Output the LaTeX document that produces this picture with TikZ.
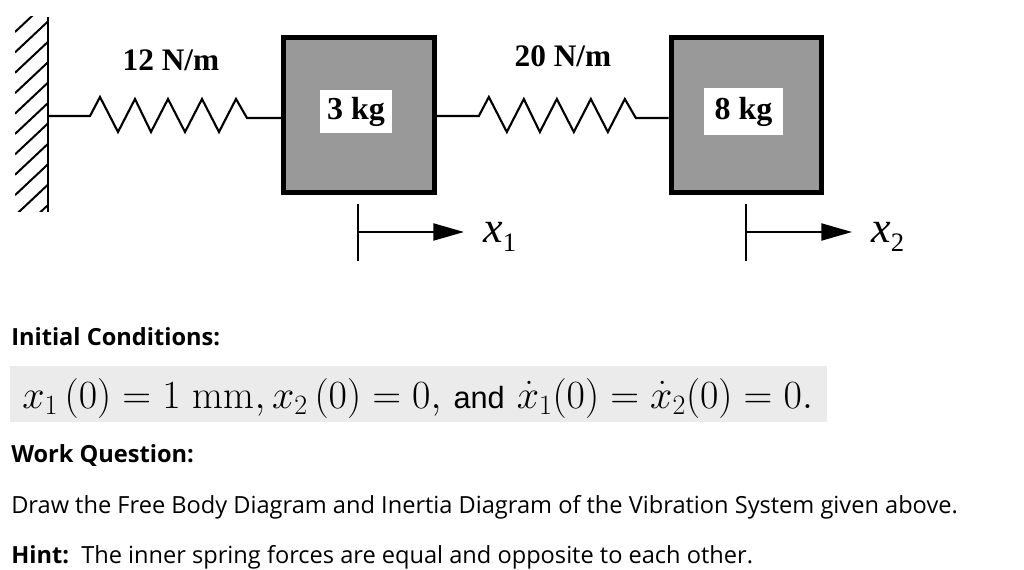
\documentclass[tikz,border=0pt]{standalone}
\usepackage{fix-cm}
\usepackage{fontspec}
\newfontfamily\figfont{Liberation Serif}
\newfontfamily\bodyfont{Open Sans}
\newfontfamily\andfont{Liberation Sans}
\usetikzlibrary{arrows.meta}
\definecolor{massgray}{HTML}{999999}
\definecolor{bandgray}{HTML}{EBEBEB}
\tikzset{
	mass/.style={draw,line width=3.75pt,fill=massgray,minimum width=113pt,minimum height=116pt,inner sep=0pt},
	masslabel/.style={anchor=base,fill=white,inner sep=0pt,font=\figfont\bfseries\fontsize{24}{26}\selectfont},
	ratelabel/.style={anchor=base,inner sep=0pt,font=\figfont\bfseries\fontsize{23.5}{26}\selectfont},
	poslabel/.style={anchor=base west,inner sep=0pt,font=\figfont\fontsize{33}{35}\selectfont},
	bodytext/.style={anchor=base west,inner sep=0pt,font=\bodyfont\fontsize{17.7}{21}\selectfont},
	boldtext/.style={bodytext,font=\bodyfont\bfseries\fontsize{17.7}{21}\selectfont},
	spring/.style={line width=1.6pt,line join=miter},
	hatch/.style={line width=1.5pt},
	wall/.style={line width=1.9pt},
	tick/.style={line width=1.6pt},
	disp/.style={line width=1.6pt,-{Triangle[length=23pt,width=12.75pt]}}
}
\newcommand{\springpath}{-- ++(42,0) -- ++(10,-19) -- ++(18,35) -- ++(17,-33) -- ++(16,33) -- ++(17,-33) -- ++(17,33) -- ++(17,-33) -- ++(17,33) -- ++(17,-33) -- ++(11,19)}
\newcommand{\posname}[1]{\textit{x}\raisebox{-6.75pt}{\fontsize{20}{20}\selectfont #1}}

\begin{document}
\begin{tikzpicture}[x=0.75pt,y=-0.75pt]
\useasboundingbox (0,0) rectangle (1024,570);

\coordinate (walltop) at (48,17);
\coordinate (wallbot) at (48,212);
\coordinate (wallmid) at (48,116);
\draw[wall] (walltop) -- (wallbot);
\begin{scope}
	\clip (15,17) rectangle (48,212);
	\foreach \y in {32,52.4,...,260}
		\draw[hatch] (15,\y) -- (48,\y-31);
\end{scope}

\node[mass] (m1) at (359,115) {};
\node[mass] (m2) at (746.5,115) {};
\node[masslabel,minimum width=54pt,text height=22.5pt,text depth=9.75pt] (m1label) at (356,120) {3 kg};
\node[masslabel,minimum width=59pt,text height=24pt,text depth=11.25pt] (m2label) at (743.5,120) {8 kg};
\node[ratelabel] (k1label) at (171,71) {12 N/m};
\node[ratelabel] (k2label) at (563,66.5) {20 N/m};

\draw[spring] (wallmid) \springpath coordinate (s1end) -- (s1end -| m1.west);
\draw[spring] (m1.east |- wallmid) \springpath coordinate (s2end) -- (s2end -| m2.west);

\coordinate (o1) at (358,232);
\coordinate (o2) at (746,232);
\coordinate (tip1) at (464,232);
\coordinate (tip2) at (852,232);
\draw[tick] (358,204) coordinate (t1a) -- (358,261) coordinate (t1b);
\draw[tick] (746,204) coordinate (t2a) -- (746,261) coordinate (t2b);
\draw[disp] (o1) -- (tip1);
\draw[disp] (o2) -- (tip2);
\node[poslabel] (x1label) at (483,243) {\posname{1}};
\node[poslabel] (x2label) at (871,243) {\posname{2}};

\node[boldtext] (ictitle) at (11,345) {Initial Conditions:};
\fill[bandgray] (10,366) rectangle (827,422);
\node[anchor=base west,inner sep=0pt,font=\fontsize{30}{34}\selectfont] (iceq) at (22,408) {$x_1\left(0\right)=1\ \mathrm{mm},x_2\left(0\right)=0,$ {\andfont\fontsize{23}{26}\selectfont and} $\dot{x}_1(0)=\dot{x}_2(0)=0.$};
\node[boldtext] (wqtitle) at (11,462) {Work Question:};
\node[bodytext] (wqtext) at (11,513.5) {Draw the Free Body Diagram and Inertia Diagram of the Vibration System given above.};
\node[bodytext] (hint) at (11,563) {\textbf{Hint:}\ \ The inner spring forces are equal and opposite to each other.};
\end{tikzpicture}
\end{document}
